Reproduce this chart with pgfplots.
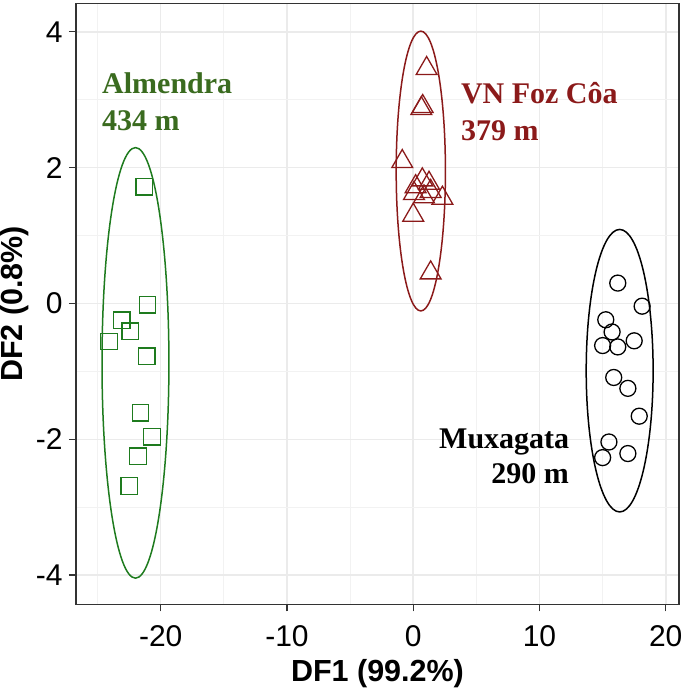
\documentclass[border=0pt]{standalone}
\usepackage{pgfplots}
\pgfplotsset{compat=1.18}
\usepackage{fontspec}
\setmainfont{Liberation Serif}
\newfontfamily\sansf{Liberation Sans}
\definecolor{almg}{HTML}{1E7B1E}
\definecolor{almt}{HTML}{3A6B1F}
\definecolor{vnr}{HTML}{8B1A1A}
\pgfplotstableread{
x y
-21.3 1.72
-21.05 -0.02
-23.1 -0.25
-22.4 -0.41
-24.1 -0.56
-21.1 -0.78
-21.6 -1.61
-20.7 -1.96
-21.8 -2.25
-22.5 -2.69
}\almendra
\pgfplotstableread{
x y
1.06 3.46
0.64 2.87
0.75 2.90
-0.87 2.09
0.72 1.82
0.19 1.72
1.25 1.77
0.06 1.62
0.85 1.57
1.38 1.65
2.31 1.55
0.0 1.30
1.38 0.45
}\vnfoz
\pgfplotstableread{
x y
16.2 0.30
18.13 -0.04
15.25 -0.24
15.75 -0.42
17.5 -0.55
15.0 -0.62
16.2 -0.64
15.88 -1.09
17.0 -1.25
17.9 -1.66
15.5 -2.04
15.0 -2.27
17.0 -2.21
}\muxagata
\begin{document}
\begin{tikzpicture}
\begin{axis}[
 scale only axis, width=603bp, height=601bp,
 xmin=-26.71, xmax=21.05, ymin=-4.43, ymax=4.42,
 xtick pos=bottom, ytick pos=left,
 axis line style={draw=black!80, line width=1.3bp},
 xtick={-20,-10,0,10,20}, xticklabels={-20,-10,0,10,20},
 ytick={-4,-2,0,2,4}, yticklabels={-4,-2,0,2,4},
 minor xtick={-25,-15,-5,5,15}, minor ytick={-3,-1,1,3},
 grid=both,
 major grid style={draw=black!8, line width=1.5bp},
 minor grid style={draw=black!5, line width=1bp},
 tick align=outside, major tick length=7bp, minor tick length=0pt,
 tick style={black!80, line width=1.3bp},
 ticklabel style={font=\sansf\fontsize{30bp}{36bp}\selectfont, inner sep=0pt},
 xticklabel style={anchor=north, yshift=-13.7bp},
 yticklabel style={anchor=east, xshift=-6.3bp},
 xlabel={DF1 (99.2\%)}, ylabel={DF2 (0.8\%)},
 label style={font=\sansf\bfseries\fontsize{30.5bp}{36bp}\selectfont, inner sep=0pt},
 xlabel style={at={([yshift=-77.4bp]axis description cs:0.5,0)}, anchor=base},
 ylabel style={at={([xshift=-61bp]axis description cs:0,0.5)}, anchor=center},
 clip=false,
]
\draw[almg, line width=1.5bp] (axis cs:-22.0,-0.875) ellipse [x radius=2.65, y radius=3.17];
\draw[vnr, line width=1.5bp] (axis cs:0.6,1.95) ellipse [x radius=1.95, y radius=2.06];
\draw[black, line width=1.5bp] (axis cs:16.35,-0.99) ellipse [x radius=2.65, y radius=2.08];
\addplot[only marks, mark=square, mark size=8.3bp, mark options={draw=almg, line width=1.3bp, fill=none}] table {\almendra};
\addplot[only marks, mark=triangle, mark size=12bp, mark options={draw=vnr, line width=1.3bp, fill=none}] table {\vnfoz};
\addplot[only marks, mark=o, mark size=8bp, mark options={draw=black, line width=1.3bp, fill=none}] table {\muxagata};
\node[anchor=base west, text=almt, font=\bfseries\fontsize{30bp}{36bp}\selectfont, inner sep=0pt] at (axis cs:-24.65,3.09) {Almendra};
\node[anchor=base west, text=almt, font=\bfseries\fontsize{30bp}{36bp}\selectfont, inner sep=0pt] at (axis cs:-24.65,2.54) {434 m};
\node[anchor=base west, text=vnr, font=\bfseries\fontsize{30bp}{36bp}\selectfont, inner sep=0pt] at (axis cs:3.77,2.94) {VN Foz Côa};
\node[anchor=base west, text=vnr, font=\bfseries\fontsize{30bp}{36bp}\selectfont, inner sep=0pt] at (axis cs:3.77,2.40) {379 m};
\node[anchor=base east, text=black, font=\bfseries\fontsize{30bp}{36bp}\selectfont, inner sep=0pt] at (axis cs:12.37,-2.14) {Muxagata};
\node[anchor=base east, text=black, font=\bfseries\fontsize{30bp}{36bp}\selectfont, inner sep=0pt] at (axis cs:12.35,-2.65) {290 m};
\end{axis}
\pgfresetboundingbox
\path[use as bounding box] ([xshift=-76bp,yshift=-86.7bp]current axis.south west) rectangle ([xshift=6bp,yshift=3.3bp]current axis.north east);
\end{tikzpicture}
\end{document}
